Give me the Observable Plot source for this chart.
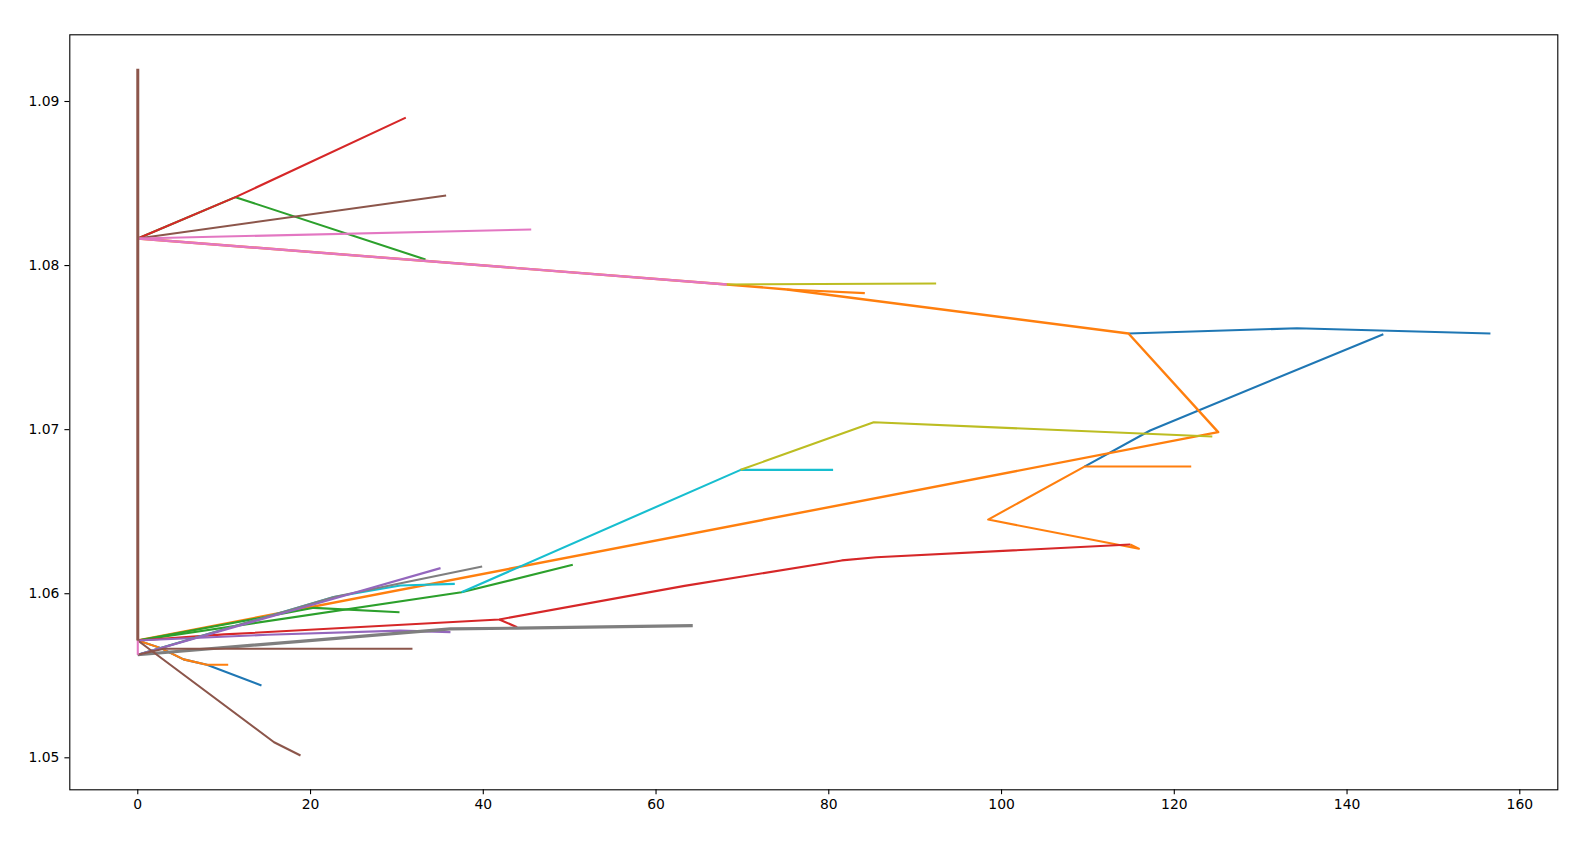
<!DOCTYPE html>
<html>
<head>
<meta charset="utf-8">
<script src="https://cdn.jsdelivr.net/npm/d3@7"></script>
<script src="https://cdn.jsdelivr.net/npm/@observablehq/plot@0.6"></script>
<style>
  html, body { margin: 0; padding: 0; background: #fff; }
  #chart { width: 1594px; height: 850px; }
  svg { font-family: "DejaVu Sans", sans-serif; }
</style>
</head>
<body>
<div id="chart"></div>
<script>
// ---- Data ----
const xTicks = [0, 20, 40, 60, 80, 100, 120, 140, 160];
const yTicks = [1.05, 1.06, 1.07, 1.08, 1.09];

// path vertices [x, y]
const blueLow     = [[0,1.05715],[2.6,1.0567],[5.3,1.0560],[8.0,1.05567],[14.32,1.05441]];
const blueRight   = [[114.7,1.07586],[134.2,1.07618],[156.6,1.07586]];
const blueRise    = [[109.6,1.06775],[117.2,1.06995],[144.2,1.07582]];
const orangeMain  = [[0,1.08165],[68.2,1.07885],[75.18,1.07854],[114.7,1.07586],[125.08,1.06985],[0,1.05715]];
const orangeShort = [[75.18,1.07854],[84.17,1.07832]];
const orangeZig   = [[114.9,1.0630],[115.9,1.06274],[98.45,1.06452],[109.6,1.06775],[121.96,1.06775]];
const orangeLow   = [[0,1.05715],[2.6,1.0567],[5.3,1.0560],[8.0,1.05567],[10.47,1.05567]];
const greenTop    = [[0,1.08165],[11.31,1.08417],[33.31,1.08037]];
const redTop      = [[0,1.08165],[11.31,1.08417],[31.03,1.08902]];
const brownTop    = [[0,1.08165],[35.7,1.08427]];
const pinkTop     = [[0,1.08165],[45.55,1.0822]];
const pinkLong    = [[0,1.08165],[68.2,1.07885]];
const oliveTop    = [[68.2,1.07885],[92.43,1.07891]];
const greenOne    = [[0,1.05715],[37.48,1.06009],[50.36,1.06176]];
const cyanMid     = [[37.48,1.06009],[69.8,1.06755],[80.5,1.06755]];
const oliveMid    = [[69.8,1.06755],[85.2,1.07045],[124.4,1.06958]];
const greenTwo    = [[0,1.05715],[20.4,1.05914],[30.3,1.05887]];
const redLow      = [[0,1.05715],[10,1.05752],[41.85,1.05843],[63.3,1.06048],[81.5,1.06203],[85.5,1.06222],[114.9,1.0630]];
const redStub     = [[41.85,1.05843],[43.92,1.05796]];
const purpleFlat  = [[0,1.05715],[15,1.0575],[30.4,1.05775],[36.2,1.05766]];
const grayFlat    = [[0,1.05628],[18.8,1.0571],[36.2,1.05786],[43.9,1.0579],[64.25,1.05805]];
const cyanShort   = [[0,1.05628],[22.7,1.0598],[30.4,1.0605],[36.7,1.0606]];
const grayDiag    = [[0,1.05628],[22.7,1.0598],[39.87,1.06166]];
const purpleDiag  = [[0,1.05628],[35.05,1.06156]];
const brownFlat   = [[0,1.05628],[3,1.05665],[31.8,1.05665]];
const brownDrop   = [[0,1.05715],[15.78,1.05095],[18.84,1.05014]];
const pinkStem    = [[0,1.05715],[0,1.05628]];
const brownStem   = [[0,1.0920],[0,1.05715]];

// draw order (bottom to top) and colour key
const seriesOrder = [
  ["blueLow", blueLow, "blue"], ["blueRight", blueRight, "blue"], ["blueRise", blueRise, "blue"],
  ["orangeMain", orangeMain, "orange"], ["orangeShort", orangeShort, "orange"],
  ["orangeZig", orangeZig, "orange"], ["orangeLow", orangeLow, "orange"],
  ["greenTop", greenTop, "green"], ["redTop", redTop, "red"], ["brownTop", brownTop, "brown"],
  ["pinkTop", pinkTop, "pink"], ["pinkLong", pinkLong, "pink"], ["oliveTop", oliveTop, "olive"],
  ["greenOne", greenOne, "green"], ["cyanMid", cyanMid, "cyan"], ["oliveMid", oliveMid, "olive"],
  ["greenTwo", greenTwo, "green"], ["redLow", redLow, "red"], ["redStub", redStub, "red"],
  ["purpleFlat", purpleFlat, "purple"], ["grayFlat", grayFlat, "gray"],
  ["cyanShort", cyanShort, "cyan"], ["grayDiag", grayDiag, "gray"], ["purpleDiag", purpleDiag, "purple"],
  ["brownFlat", brownFlat, "brown"],
  ["brownDrop", brownDrop, "brown"], ["pinkStem", pinkStem, "pink"], ["brownStem", brownStem, "brown"]
];

// ---- Styles ----
const palette = {
  blue: "#1f77b4", orange: "#ff7f0e", green: "#2ca02c", red: "#d62728", purple: "#9467bd",
  brown: "#8c564b", pink: "#e377c2", gray: "#7f7f7f", olive: "#bcbd22", cyan: "#17becf"
};
const thick = {grayFlat: 3.2, brownStem: 3, orangeMain: 2.4, pinkLong: 2.4};

const marks = seriesOrder.map(([name, pts, key]) =>
  Plot.line(pts, {x: d => d[0], y: d => d[1], stroke: palette[key],
    strokeWidth: thick[name] || 2.1, strokeLinejoin: "round", strokeLinecap: "butt"}));

const chart = Plot.plot({
  width: 1594,
  height: 850,
  marginLeft: 69.3,
  marginRight: 36.7,
  marginTop: 34.3,
  marginBottom: 60.7,
  style: {fontFamily: "DejaVu Sans", fontSize: "13.9px", color: "#000", background: "#fff"},
  x: {domain: [-7.87, 164.4]},
  y: {domain: [1.04805, 1.094065]},
  marks: [
    ...marks,
    Plot.frame({stroke: "#000", strokeWidth: 1.1}),
    Plot.axisX({ticks: xTicks, tickSize: 4.9, tickPadding: 4.3, tickFormat: d3.format("d"),
      strokeWidth: 1.1, label: null, fontSize: 13.9}),
    Plot.axisY({ticks: yTicks, tickSize: 4.9, tickPadding: 5.5, tickFormat: d3.format(".2f"),
      strokeWidth: 1.1, label: null, fontSize: 13.9})
  ]
});
document.getElementById("chart").appendChild(chart);
</script>
</body>
</html>
